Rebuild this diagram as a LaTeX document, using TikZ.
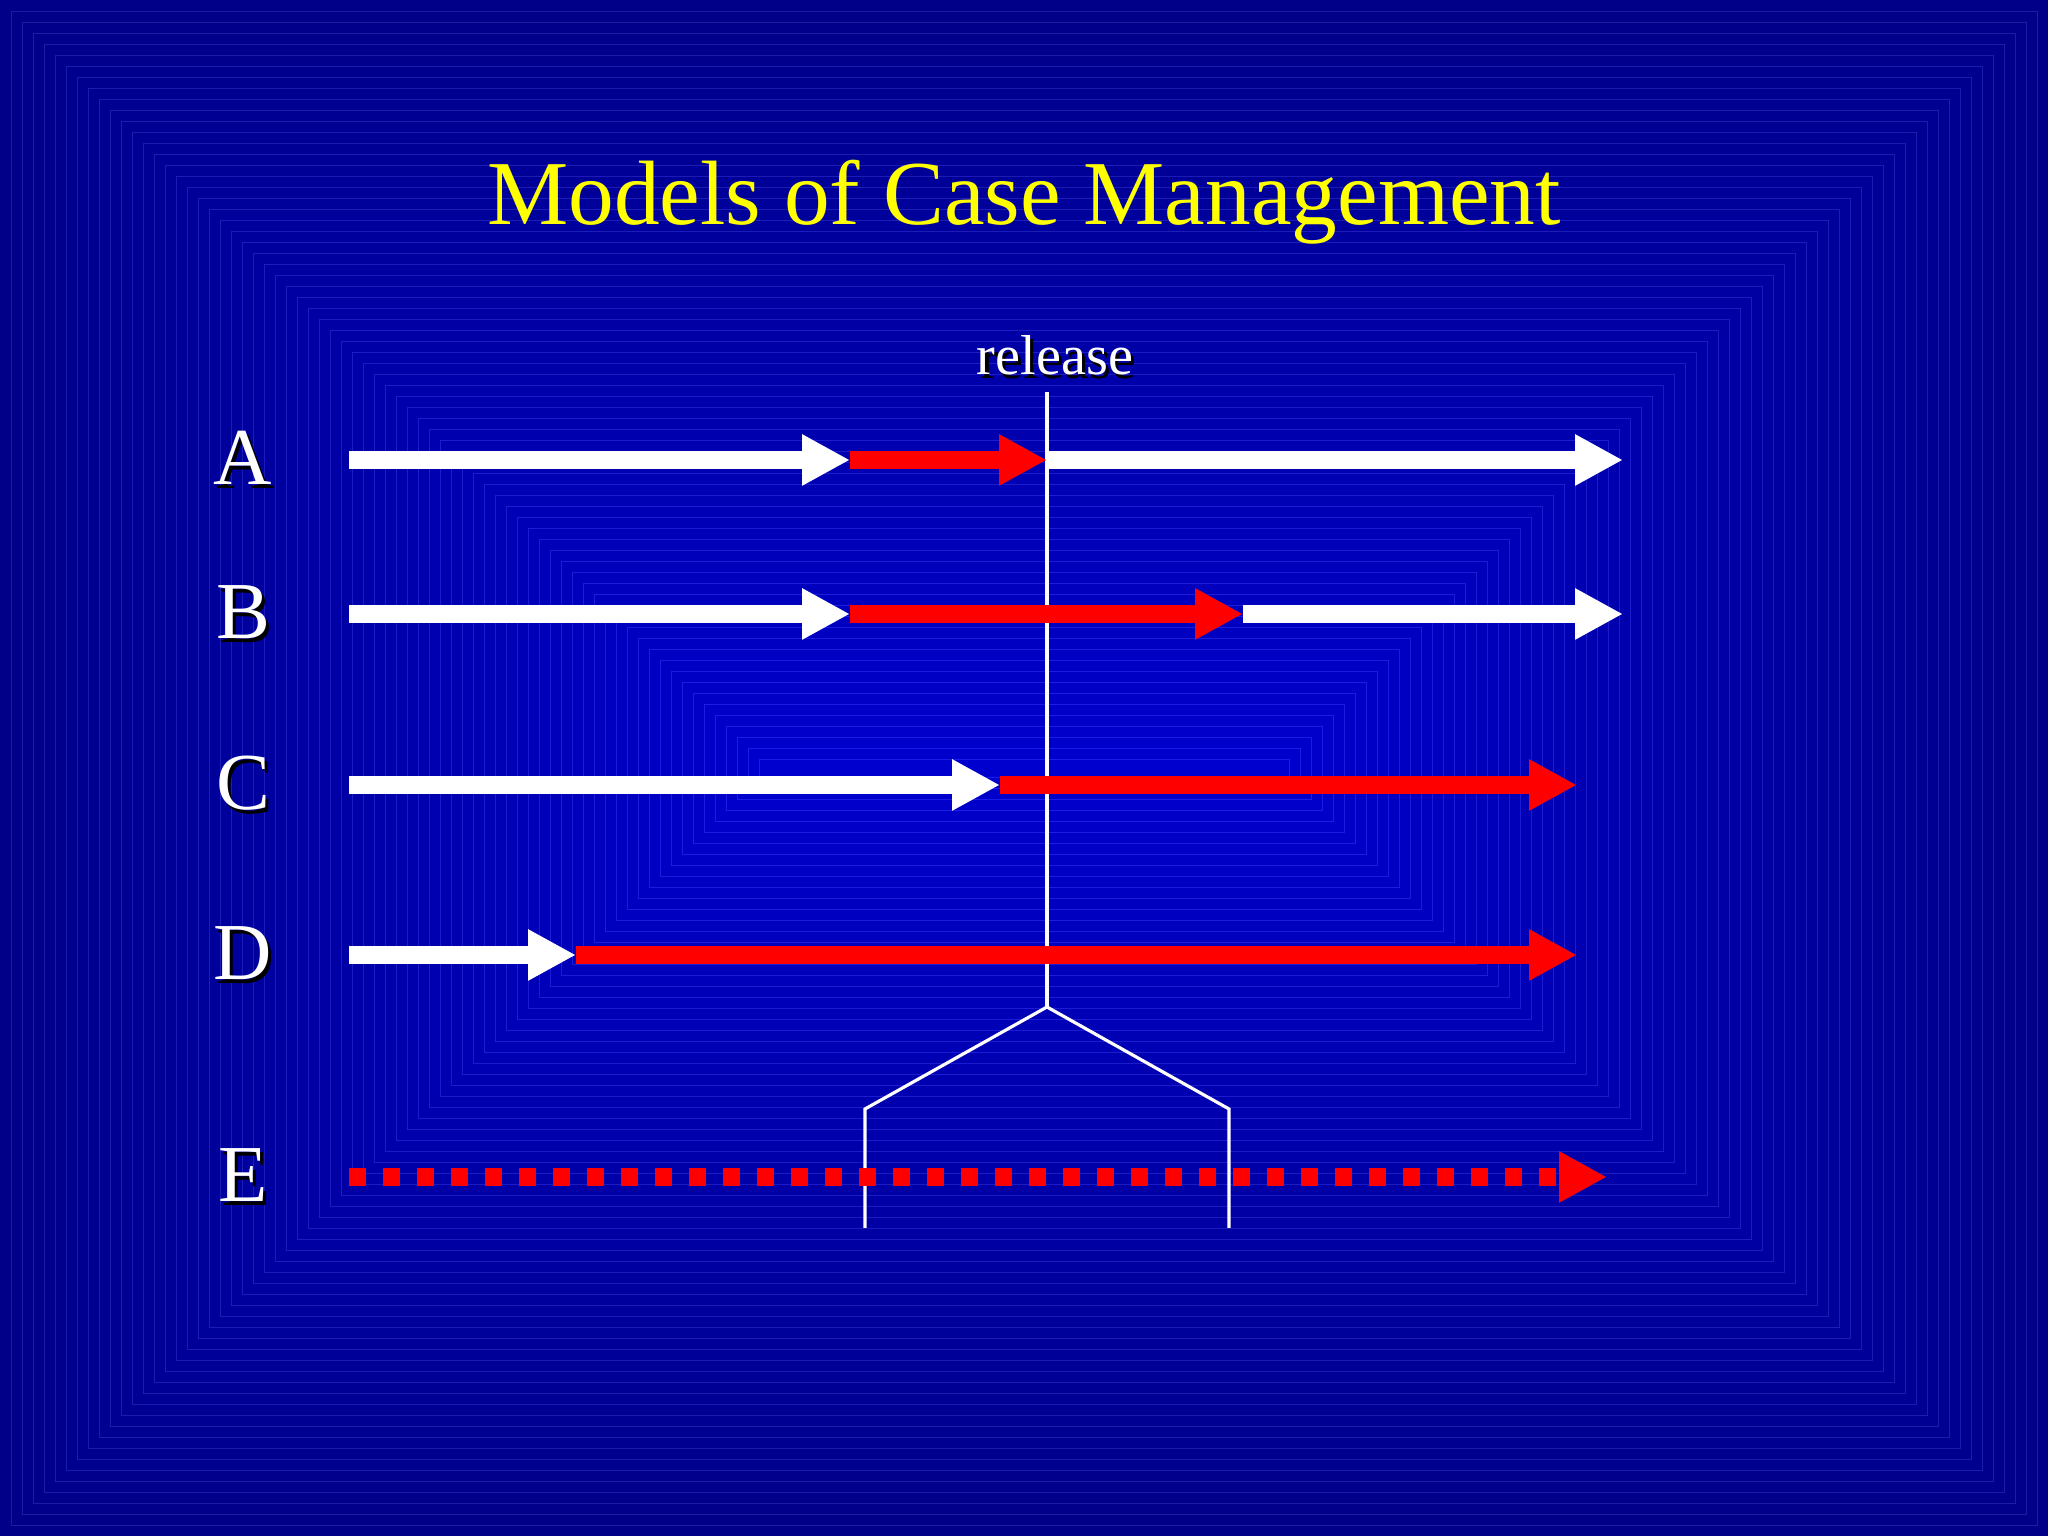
\documentclass[tikz,border=0pt]{standalone}
\usepackage{fontspec}
\setmainfont{Liberation Serif}
\usepackage{xcolor}
\usepackage{tikz}
\usetikzlibrary{arrows.meta}

\definecolor{titleyellow}{RGB}{255,255,0}
\definecolor{slidered}{RGB}{255,0,0}
\newcommand{\shadowed}[1]{\makebox[0pt][l]{\hspace{0.9pt}\raisebox{-0.9pt}{\color{black}#1}}#1}

\begin{document}
\begin{tikzpicture}[
whitearr/.style={draw=white,line width=1.75mm,-{Triangle[length=4.8mm,width=4.8mm]}},
redarr/.style={draw=slidered,line width=1.75mm,-{Triangle[length=4.8mm,width=4.8mm]}},
dotarr/.style={draw=slidered,line width=1.8mm,dash pattern=on 1.7mm off 1.7mm,-{Triangle[length=4.8mm,width=4.8mm]}},
rowlabel/.style={text=white,font=\fontsize{23}{23}\selectfont,anchor=base,inner sep=0pt},
releaseline/.style={draw=white,line width=0.9pt}]
\useasboundingbox (0,0) rectangle (20.48,15.36);
% background: nested frames, brighter towards the middle
\foreach \i in {0,...,69}{
  \pgfmathsetmacro{\ins}{0.11*\i}
  \pgfmathtruncatemacro{\bl}{136+70*\i/69}
  \pgfmathtruncatemacro{\bll}{min(255,\bl+28)}
  \definecolor{bgfill}{RGB}{0,0,\bl}
  \definecolor{bgedge}{RGB}{28,28,\bll}
  \fill[bgfill] (\ins,\ins) rectangle (20.48-\ins,15.36-\ins);
  \ifnum\i>0 \draw[bgedge,line width=0.25pt] (\ins,\ins) rectangle (20.48-\ins,15.36-\ins);\fi
}
\node[text=titleyellow,font=\fontsize{26}{26}\selectfont,anchor=base] (title) at (10.24,13.11) {Models of Case Management};
\node[text=white,font=\fontsize{16}{16}\selectfont,anchor=base,inner sep=0pt] (rel) at (10.55,11.61) {\shadowed{release}};
% release marker
\coordinate (rtop) at (10.47,11.44);
\coordinate (rbot) at (10.47,5.29);
\coordinate (kl) at (8.65,4.27);
\coordinate (kr) at (12.29,4.27);
\coordinate (kle) at (8.65,3.08);
\coordinate (kre) at (12.29,3.08);
\draw[releaseline] (rtop) -- (rbot);
\draw[releaseline] (kle) -- (kl) -- (rbot) -- (kr) -- (kre);
% row labels
\node[rowlabel] (lA) at (2.43,10.51) {\shadowed{A}};
\node[rowlabel] (lB) at (2.43,8.97) {\shadowed{B}};
\node[rowlabel] (lC) at (2.43,7.26) {\shadowed{C}};
\node[rowlabel] (lD) at (2.43,5.56) {\shadowed{D}};
\node[rowlabel] (lE) at (2.43,3.34) {\shadowed{E}};
% A
\coordinate (A0) at (3.49,10.76);
\coordinate (A1) at (8.50,10.76);
\coordinate (A2) at (10.47,10.76);
\coordinate (A3) at (16.23,10.76);
\draw[whitearr] (A0) -- (A1);
\draw[redarr] (A1) -- (A2);
\draw[whitearr] (A2) -- (A3);
% B
\coordinate (B0) at (3.49,9.22);
\coordinate (B1) at (8.50,9.22);
\coordinate (B2) at (12.43,9.22);
\coordinate (B3) at (16.23,9.22);
\draw[whitearr] (B0) -- (B1);
\draw[redarr] (B1) -- (B2);
\draw[whitearr] (B2) -- (B3);
% C
\coordinate (C0) at (3.49,7.51);
\coordinate (C1) at (10.00,7.51);
\coordinate (C2) at (15.77,7.51);
\draw[whitearr] (C0) -- (C1);
\draw[redarr] (C1) -- (C2);
% D
\coordinate (D0) at (3.49,5.81);
\coordinate (D1) at (5.76,5.81);
\coordinate (D2) at (15.77,5.81);
\draw[whitearr] (D0) -- (D1);
\draw[redarr] (D1) -- (D2);
% E
\coordinate (E0) at (3.49,3.59);
\coordinate (E1) at (16.07,3.59);
\draw[dotarr] (E0) -- (E1);
\end{tikzpicture}
\end{document}
